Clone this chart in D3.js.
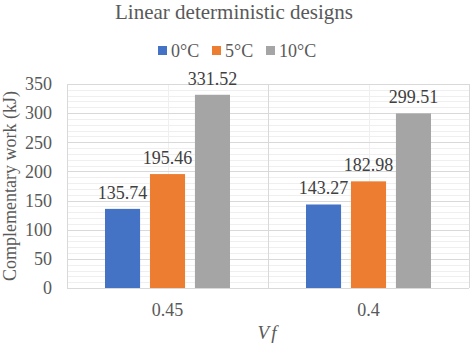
<!DOCTYPE html>
<html>
<head>
<meta charset="utf-8">
<script src="https://cdn.jsdelivr.net/npm/d3@7"></script>
<style>
  body { margin: 0; background: #fff; }
  text { font-family: "Liberation Serif", "Times New Roman", serif; }
</style>
</head>
<body>
<svg id="chart" width="474" height="346"></svg>
<script>
var categories = ['0.45', '0.4']
var series = ['0°C', '5°C', '10°C']
var values = {
  '0°C':  [135.74, 143.27],
  '5°C':  [195.46, 182.98],
  '10°C': [331.52, 299.51]
}
var colors = ['#4472C4', '#ED7D31', '#A5A5A5']
var yTicks = [0, 50, 100, 150, 200, 250, 300, 350]

var svg = d3.select('#chart')
// plot area edges
var plot = {left: 67, right: 469, top: 84, bottom: 288}

var x = d3.scaleBand().domain(categories).range([plot.left, plot.right]).padding(0)
var xs = d3.scaleBand().domain(series).range([0, x.bandwidth()])
  .paddingInner(0.22).paddingOuter(0.845)
var y = d3.scaleLinear().domain([0, 350]).range([plot.bottom, plot.top])
var color = d3.scaleOrdinal().domain(series).range(colors)

// minor grid every 10
svg.append('g').selectAll('line')
  .data(d3.range(10, 350, 10).filter(d => d % 50))
  .join('line')
  .attr('x1', plot.left).attr('x2', plot.right)
  .attr('y1', d => Math.round(y(d)) + .5).attr('y2', d => Math.round(y(d)) + .5)
  .attr('stroke', '#efefef')

// minor vertical lines through category centers
svg.append('g').selectAll('line')
  .data(categories)
  .join('line')
  .attr('x1', d => Math.round(x(d) + x.bandwidth()/2) + .5)
  .attr('x2', d => Math.round(x(d) + x.bandwidth()/2) + .5)
  .attr('y1', plot.top).attr('y2', plot.bottom)
  .attr('stroke', '#efefef')

// major grid
svg.append('g').selectAll('line')
  .data(yTicks)
  .join('line')
  .attr('x1', plot.left).attr('x2', plot.right)
  .attr('y1', d => Math.round(y(d)) + .5).attr('y2', d => Math.round(y(d)) + .5)
  .attr('stroke', '#d9d9d9')

// category boundaries
svg.append('g').selectAll('line')
  .data([plot.left, x('0.4'), plot.right])
  .join('line')
  .attr('x1', d => Math.round(d) + .5).attr('x2', d => Math.round(d) + .5)
  .attr('y1', plot.top).attr('y2', plot.bottom)
  .attr('stroke', '#d9d9d9')

// y axis labels
svg.append('g').selectAll('text')
  .data(yTicks)
  .join('text')
  .attr('x', 52).attr('y', d => y(d))
  .attr('dy', '0.35em')
  .attr('text-anchor', 'end')
  .attr('font-size', 18)
  .attr('fill', '#595959')
  .text(d => d)

// bars
var groups = svg.append('g').selectAll('g')
  .data(categories)
  .join('g')
  .attr('transform', d => `translate(${x(d)},0)`)

var bars = groups.selectAll('g')
  .data((c, i) => series.map(s => ({ s, v: values[s][i] })))
  .join('g')

bars.append('rect')
  .attr('x', d => xs(d.s))
  .attr('width', xs.bandwidth())
  .attr('y', d => y(d.v))
  .attr('height', d => plot.bottom - y(d.v))
  .attr('fill', d => color(d.s))

bars.append('text')
  .attr('x', d => xs(d.s) + xs.bandwidth()/2)
  .attr('y', d => y(d.v) - 10)
  .attr('text-anchor', 'middle')
  .attr('font-size', 18)
  .attr('fill', '#404040')
  .text(d => d3.format('.2f')(d.v))

// x tick labels
svg.append('g').selectAll('text')
  .data(categories)
  .join('text')
  .attr('x', d => x(d) + x.bandwidth()/2)
  .attr('y', 316)
  .attr('text-anchor', 'middle')
  .attr('font-size', 18)
  .attr('fill', '#595959')
  .text(d => d)

// titles
svg.append('text')
  .attr('x', 234).attr('y', 19)
  .attr('text-anchor', 'middle')
  .attr('font-size', 21)
  .attr('fill', '#595959')
  .text('Linear deterministic designs')

svg.append('text')
  .attr('transform', 'translate(16,186) rotate(-90)')
  .attr('text-anchor', 'middle')
  .attr('font-size', 18)
  .attr('fill', '#595959')
  .text('Complementary work (kJ)')

svg.append('text')
  .attr('x', 268).attr('y', 339)
  .attr('text-anchor', 'middle')
  .attr('font-size', 19)
  .attr('font-style', 'italic')
  .attr('fill', '#595959')
  .attr('letter-spacing', 2)
  .text('Vf')

// legend
var legendX = [158, 212, 266]
var legend = svg.append('g').selectAll('g')
  .data(series)
  .join('g')
  .attr('transform', (d, i) => `translate(${legendX[i]},46)`)

legend.append('rect')
  .attr('width', 9).attr('height', 9)
  .attr('fill', d => color(d))

legend.append('text')
  .attr('x', 13).attr('y', 4.5)
  .attr('dy', '0.35em')
  .attr('font-size', 18)
  .attr('fill', '#595959')
  .text(d => d)
</script>
</body>
</html>
